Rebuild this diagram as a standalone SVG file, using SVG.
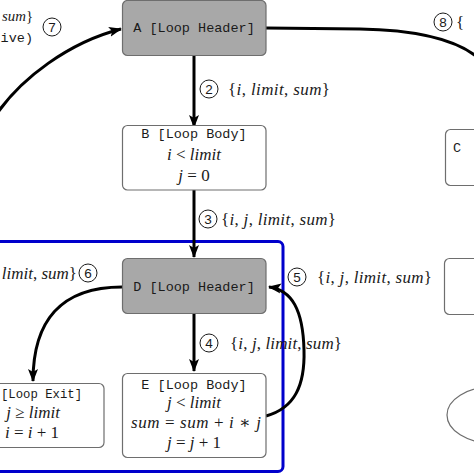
<svg xmlns="http://www.w3.org/2000/svg" width="474" height="474" viewBox="0 0 474 474">
<style>
.hdr{fill:#a8a8a8;stroke:#6e6e6e;stroke-width:1.2}
.bod{fill:#ffffff;stroke:#6e6e6e;stroke-width:1.2}
.mono{font-family:"Liberation Mono","DejaVu Sans Mono",monospace;font-size:13.5px;fill:#1a1a1a}
.math{font-family:"Liberation Serif","DejaVu Serif",serif;font-size:17px;font-style:italic;fill:#1a1a1a}
.up{font-style:normal}
.num{font-family:"Liberation Sans","DejaVu Sans",sans-serif;font-size:13.5px;fill:#1a1a1a;text-anchor:middle}
.circ{fill:none;stroke:#1a1a1a;stroke-width:1}
.edge{fill:none;stroke:#000;stroke-width:3}
</style>
<defs>
<marker id="arr" markerUnits="userSpaceOnUse" markerWidth="14" markerHeight="12" viewBox="0 0 14 12" refX="12" refY="6" orient="auto">
<path d="M0,1 L13,6 L0,11 L3,6 Z" fill="#000"/>
</marker>
</defs>

<rect id="loop-region" x="-20" y="241.5" width="303" height="230" rx="5" fill="none" stroke="#0000cc" stroke-width="3"/>

<g id="connectors">
<path class="edge" d="M194,56 L194,127" marker-end="url(#arr)"/>
<path class="edge" d="M194,190 L194,257" marker-end="url(#arr)"/>
<path class="edge" d="M194,314 L194,371" marker-end="url(#arr)"/>
<path class="edge" d="M122,287 C60,287 33,322 33,381" marker-end="url(#arr)"/>
<path class="edge" d="M266,416 C295,408 305,385 304,350 C303,310 292,290 269,287" marker-end="url(#arr)"/>
<path class="edge" d="M-6,118 C20,78 70,42 121,29" marker-end="url(#arr)"/>
<path class="edge" d="M266,28 L360,29 C420,30 455,40 476,56"/>
</g>

<g id="A">
<rect class="hdr" x="122.5" y="0.5" width="143.5" height="55" rx="5"/>
<text class="mono" x="194" y="32" text-anchor="middle">A [Loop Header]</text>
</g>

<g id="B">
<rect class="bod" x="122.5" y="125.5" width="143.5" height="64.5" rx="5"/>
<text class="mono" x="194" y="138" text-anchor="middle">B [Loop Body]</text>
<text class="math" x="194" y="160" text-anchor="middle">i <tspan class="up">&lt;</tspan> limit</text>
<text class="math" x="194" y="181" text-anchor="middle">j <tspan class="up">= 0</tspan></text>
</g>

<g id="D">
<rect class="hdr" x="122.5" y="258.5" width="143.5" height="55" rx="5"/>
<text class="mono" x="194" y="291" text-anchor="middle">D [Loop Header]</text>
</g>

<g id="E">
<rect class="bod" x="122.5" y="373.5" width="143.5" height="84" rx="5"/>
<text class="mono" x="194" y="389" text-anchor="middle">E [Loop Body]</text>
<text class="math" x="194" y="408" text-anchor="middle">j <tspan class="up">&lt;</tspan> limit</text>
<text class="math" x="196" y="428" text-anchor="middle" textLength="130" lengthAdjust="spacing">sum <tspan class="up">=</tspan> sum <tspan class="up">+</tspan> i <tspan class="up">∗</tspan> j</text>
<text class="math" x="194" y="448" text-anchor="middle">j <tspan class="up">=</tspan> j <tspan class="up">+ 1</tspan></text>
</g>

<g id="F">
<rect class="bod" x="-40" y="383.5" width="144" height="64" rx="5"/>
<text class="mono" x="1" y="398" textLength="81" lengthAdjust="spacingAndGlyphs">[Loop Exit]</text>
<text class="math" x="33" y="418" text-anchor="middle">j <tspan class="up">≥</tspan> limit</text>
<text class="math" x="32" y="438" text-anchor="middle">i <tspan class="up">=</tspan> i <tspan class="up">+ 1</tspan></text>
</g>

<g id="C">
<rect class="bod" x="445.5" y="129.5" width="60" height="56" rx="5"/>
<text class="mono" x="453" y="152">C</text>
</g>

<g id="G">
<rect class="bod" x="444.5" y="258.5" width="60" height="56" rx="5"/>
</g>

<g id="H">
<ellipse cx="492" cy="415" rx="45" ry="28" fill="#fff" stroke="#6e6e6e" stroke-width="1.2"/>
</g>

<g id="labels">
<circle class="circ" cx="209" cy="89" r="9"/>
<text class="num" x="209" y="94">2</text>
<text class="math" x="228" y="95" textLength="102" lengthAdjust="spacing"><tspan class="up">{</tspan>i<tspan class="up">, </tspan>limit<tspan class="up">, </tspan>sum<tspan class="up">}</tspan></text>

<circle class="circ" cx="208" cy="219" r="9"/>
<text class="num" x="208" y="224">3</text>
<text class="math" x="221" y="225" textLength="115" lengthAdjust="spacing"><tspan class="up">{</tspan>i<tspan class="up">, </tspan>j<tspan class="up">, </tspan>limit<tspan class="up">, </tspan>sum<tspan class="up">}</tspan></text>

<circle class="circ" cx="209" cy="343" r="9"/>
<text class="num" x="209" y="348">4</text>
<text class="math" x="230" y="349" textLength="112" lengthAdjust="spacing"><tspan class="up">{</tspan>i<tspan class="up">, </tspan>j<tspan class="up">, </tspan>limit<tspan class="up">, </tspan>sum<tspan class="up">}</tspan></text>

<circle class="circ" cx="297" cy="277" r="9"/>
<text class="num" x="297" y="282">5</text>
<text class="math" x="317" y="283" textLength="115" lengthAdjust="spacing"><tspan class="up">{</tspan>i<tspan class="up">, </tspan>j<tspan class="up">, </tspan>limit<tspan class="up">, </tspan>sum<tspan class="up">}</tspan></text>

<circle class="circ" cx="88" cy="273" r="9"/>
<text class="num" x="88" y="278">6</text>
<text class="math" x="77" y="279" text-anchor="end">limit<tspan class="up">, </tspan>sum<tspan class="up">}</tspan></text>

<circle class="circ" cx="52" cy="27" r="9"/>
<text class="num" x="52" y="32">7</text>
<text class="math" x="2" y="21" style="font-size:15.5px" textLength="31" lengthAdjust="spacingAndGlyphs">sum<tspan class="up">}</tspan></text>
<text class="mono" x="33" y="42" text-anchor="end">ive)</text>

<circle class="circ" cx="443" cy="22" r="9"/>
<text class="num" x="443" y="27">8</text>
<text class="math" x="456" y="28"><tspan class="up">{</tspan></text>
</g>
</svg>
